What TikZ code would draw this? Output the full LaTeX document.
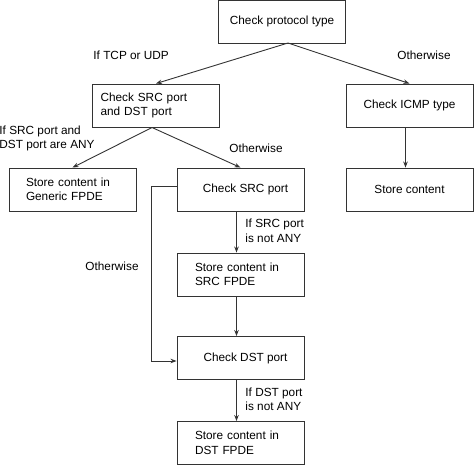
\documentclass[tikz,border=0pt]{standalone}
\usepackage{fontspec}
\setmainfont{Liberation Sans}
\usetikzlibrary{arrows.meta,positioning}
\tikzset{
box/.style={draw,minimum width=127pt,minimum height=43pt,inner sep=0pt},
lbox/.style={box,text width=93pt,inner xsep=17pt,align=left},
lbl/.style={anchor=west,inner sep=0pt,align=left}
}
\begin{document}
\begin{tikzpicture}[x=1pt,y=-1pt,>={Stealth[length=6pt,width=4.5pt]},line width=0.9pt,draw=black!80,font=\fontsize{11.8}{14.5}\selectfont]
\useasboundingbox(0,0)rectangle(474,465);
\node[box](proto)at(282,21.5){Check protocol type};
\node[box,text width=111pt,inner xsep=8pt,align=left](ports)at(156,105.5){Check SRC port\\and DST port};
\node[box](icmp)at(409.5,105.5){Check ICMP type};
\node[lbox](generic)at(72.5,189.5){Store content in\\Generic FPDE};
\node[box](srcchk)at(240.5,189.5){\hspace*{10pt}Check SRC port};
\node[box](store)at(409.5,189.5){Store content};
\node[lbox,inner xsep=18pt,text width=91pt](srcfpde)at(240.5,274.5){Store content in\\SRC FPDE};
\node[box](dstchk)at(240.5,358){\hspace*{10pt}Check DST port};
\node[lbox,inner xsep=18pt,text width=91pt](dstfpde)at(240.5,443){Store content in\\DST FPDE};
\coordinate(split1)at(288,43);
\coordinate(split2)at(152,127.5);
\draw[->](split1)--(ports.north);
\draw[->](split1)--(icmp.north);
\draw[->](split2)--(generic.north);
\draw[->](split2)--(srcchk.north);
\draw[->]([xshift=-4pt]icmp.south)--([xshift=-4pt]store.north);
\draw[->]([xshift=-4pt]srcchk.south)--([xshift=-4pt]srcfpde.north);
\draw[->]([xshift=-4pt]srcfpde.south)--([xshift=-4pt]dstchk.north);
\draw[->]([xshift=-4pt]dstchk.south)--([xshift=-4pt]dstfpde.north);
\draw[->]([yshift=3pt]srcchk.west)--++(-25,0)|-([yshift=-3pt]dstchk.west);
\node[lbl](tcp)at(93,55){If TCP or UDP};
\node[lbl](other1)at(397,55){Otherwise};
\node[lbl](anyany)at(-1,138.5){If SRC port and\\DST port are ANY};
\node[lbl](other2)at(229,148){Otherwise};
\node[lbl](srcnot)at(245,231){If SRC port\\is not ANY};
\node[lbl](other3)at(85,266){Otherwise};
\node[lbl](dstnot)at(245,399.5){If DST port\\is not ANY};
\end{tikzpicture}
\end{document}
